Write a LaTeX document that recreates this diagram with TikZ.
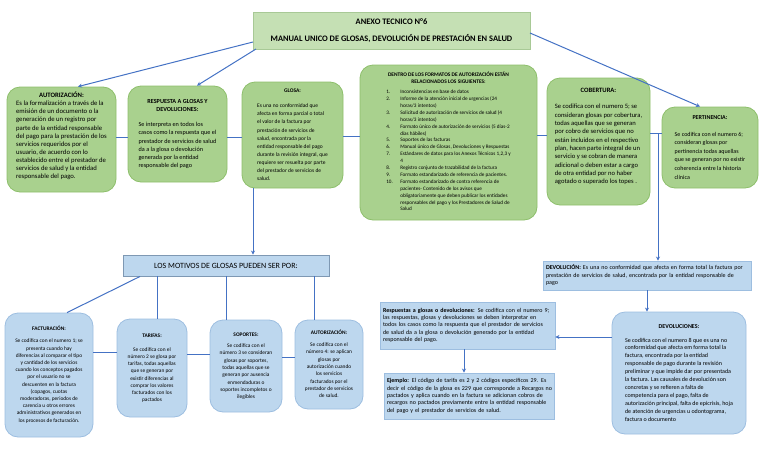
\documentclass[tikz,border=0pt]{standalone}
\usepackage{fontspec}
\setmainfont{Carlito}
\usetikzlibrary{arrows.meta}
\definecolor{gfill}{HTML}{A9D18E}
\definecolor{gline}{HTML}{8DBF6B}
\definecolor{tfill}{HTML}{C5E0B4}
\definecolor{tline}{HTML}{A8C996}
\definecolor{bfill}{HTML}{BDD7EE}
\definecolor{bline}{HTML}{9DBEE0}
\definecolor{conn}{HTML}{4472C4}
\tikzset{
  gbox/.style={draw=gline, fill=gfill, line width=0.8pt, rounded corners=13pt, inner sep=0pt},
  bbox/.style={draw=bline, fill=bfill, line width=0.8pt, rounded corners=13pt, inner sep=0pt},
  rbox/.style={draw=bline, fill=bfill, line width=0.9pt, inner sep=0pt, align=left},
  tbox/.style={draw=tline, fill=tfill, line width=0.8pt, inner sep=0pt, align=center},
  link/.style={draw=conn, line width=1pt},
  arr/.style={draw=conn, line width=1pt, -{Stealth[length=4pt,width=4pt]}}
}
\newcommand{\ttl}[1]{\multicolumn{1}{@{}c@{}}{\textbf{#1}}}
\newcommand{\num}[1]{\makebox[14pt][l]{#1}}
\begin{document}
\begin{tikzpicture}[x=1pt,y=-1pt]
\useasboundingbox (0,0) rectangle (768,466);
% title
\node[tbox, minimum width=277pt, minimum height=37pt, font=\bfseries\fontsize{8.4}{10}\selectfont] (title) at (391.5,30.5)
  {ANEXO TECNICO N°6\\[7pt]MANUAL UNICO DE GLOSAS, DEVOLUCIÓN DE PRESTACIÓN EN SALUD};
% green boxes
\node[gbox, minimum width=109pt, minimum height=105pt, font=\fontsize{6.7}{8.1}\selectfont] (aut) at (61.5,139.5)
  {\begin{tabular}{@{}l@{}}\ttl{AUTORIZACIÓN:}\\
   Es la formalización a través de la\\
   emisión de un documento o la\\
   generación de un registro por\\
   parte de la entidad responsable\\
   del pago para la prestación de los\\
   servicios requeridos por el\\
   usuario, de acuerdo con lo\\
   establecido entre el prestador de\\
   servicios de salud y la entidad\\
   responsable del pago.\\[6pt]\end{tabular}};
\node[gbox, minimum width=99pt, minimum height=96pt, font=\fontsize{6.2}{8.3}\selectfont] (resp) at (177.5,134)
  {\begin{tabular}{@{}l@{}}\ttl{RESPUESTA A GLOSAS Y}\\[-0.6pt]
   \ttl{DEVOLUCIONES:}\\[7pt]
   Se interpreta en todos los\\
   casos como la respuesta que el\\
   prestador de servicios de salud\\
   da a la glosa o devolución\\
   generada por la entidad\\
   responsable del pago\end{tabular}};
\node[gbox, minimum width=101pt, minimum height=106pt, font=\fontsize{5.5}{8.1}\selectfont] (glosa) at (292.5,135)
  {\begin{tabular}{@{}l@{}}\ttl{GLOSA:}\\[7pt]
   Es una no conformidad que\\
   afecta en forma parcial o total\\
   el valor de la factura por\\
   prestación de servicios de\\
   salud, encontrada por la\\
   entidad responsable del pago\\
   durante la revisión integral, que\\
   requiere ser resuelta por parte\\
   del prestador de servicios de\\
   salud.\end{tabular}};
\node[gbox, minimum width=177pt, minimum height=155pt, font=\fontsize{5.2}{6.9}\selectfont] (dentro) at (448.5,142.5)
  {\begin{tabular}{@{}l@{}}\ttl{\fontsize{5.4}{6.9}\selectfont DENTRO DE LOS FORMATOS DE AUTORIZACIÓN ESTÁN}\\
   \ttl{\fontsize{5.4}{6.9}\selectfont RELACIONADOS LOS SIGUIENTES:}\\[3pt]
   \num{1.}Inconsistencias en base de datos\\
   \num{2.}Informe de la atención inicial de urgencias (24\\
   \num{}horas/3 intentos)\\
   \num{3.}Solicitud de autorización de servicios de salud (4\\
   \num{}horas/3 intentos)\\
   \num{4.}Formato único de autorización de servicios (5 días-2\\
   \num{}días hábiles)\\
   \num{5.}Soportes de las facturas\\
   \num{6.}Manual único de Glosas, Devoluciones y Respuestas\\
   \num{7.}Estándares de datos para los Anexos Técnicos 1,2,3 y\\
   \num{}4\\
   \num{8.}Registro conjunto de trazabilidad de la factura\\
   \num{9.}Formato estandarizado de referencia de pacientes.\\
   \num{10.}Formato estandarizado de contra referencia de\\
   \num{}pacientes- Contenido de los avisos que\\
   \num{}obligatoriamente que deben publicar los entidades\\
   \num{}responsables del pago y los Prestadores de Salud de\\
   \num{}Salud\end{tabular}};
\node[gbox, minimum width=103pt, minimum height=127pt, font=\fontsize{6.6}{8.3}\selectfont] (cob) at (598.5,141.5)
  {\begin{tabular}{@{}l@{}}\ttl{COBERTURA:}\\[8pt]
   Se codifica con el numero 5; se\\
   consideran glosas por cobertura,\\
   todas aquellas que se generan\\
   por cobro de servicios que no\\
   están incluidos en el respectivo\\
   plan, hacen parte integral de un\\
   servicio y se cobran de manera\\
   adicional o deben estar a cargo\\
   de otra entidad por no haber\\
   agotado o superado los topes .\\[10pt]\end{tabular}};
\node[gbox, minimum width=96pt, minimum height=81pt, font=\fontsize{6}{8.6}\selectfont] (pert) at (710,147.5)
  {\begin{tabular}{@{}l@{}}\ttl{PERTINENCIA:}\\[8pt]
   Se codifica con el numero 6;\\
   consideran glosas por\\
   pertinencia todas aquellas\\
   que se generan por no existir\\
   coherencia entre la historia\\
   clínica\end{tabular}};
% motivos
\node[rbox, draw=bline!80!black, minimum width=206pt, minimum height=21pt, align=center, font=\fontsize{8}{9}\selectfont] (mot) at (226,265.5)
  {LOS MOTIVOS DE GLOSAS PUEDEN SER POR:};
% blue rounded boxes
\node[bbox, minimum width=88pt, minimum height=124pt, font=\fontsize{5.4}{7.2}\selectfont] (fact) at (49,375)
  {\begin{tabular}{@{}c@{}}\textbf{FACTURACIÓN:}\\[5pt]
   Se codifica con el numero 1; se\\
   presenta cuando hay\\
   diferencias al comparar el tipo\\
   y cantidad de los servicios\\
   cuando los conceptos pagados\\
   por el usuario no se\\
   descuenten en la factura\\
   (copagos, cuotas\\
   moderadoras, periodos de\\
   carencia u otros errores\\
   administrativos generados en\\
   los procesos de facturación.\end{tabular}};
\node[bbox, minimum width=70pt, minimum height=98pt, font=\fontsize{5.4}{7.1}\selectfont] (tar) at (152,368)
  {\begin{tabular}{@{}c@{}}\textbf{TARIFAS:}\\[7pt]
   Se codifica con el\\
   número 2 se glosa por\\
   tarifas, todas aquellas\\
   que se generan por\\
   existir diferencias al\\
   comprar los valores\\
   facturados con los\\
   pactados\end{tabular}};
\node[bbox, minimum width=72pt, minimum height=92pt, font=\fontsize{5.4}{7.3}\selectfont] (sop) at (246,366)
  {\begin{tabular}{@{}c@{}}\textbf{SOPORTES:}\\[4pt]
   Se codifica con el\\
   número 3 se consideran\\
   glosas por soportes,\\
   todas aquellas que se\\
   generan por ausencia\\
   enmendaduras o\\
   soportes incompletos o\\
   ilegibles\end{tabular}};
\node[bbox, minimum width=68pt, minimum height=89pt, font=\fontsize{5.4}{7.3}\selectfont] (aut2) at (329,364.5)
  {\begin{tabular}{@{}c@{}}\textbf{AUTORIZACIÓN:}\\[5pt]
   Se codifica con el\\
   número 4: se aplican\\
   glosas por\\
   autorización cuando\\
   los servicios\\
   facturados por el\\
   prestador de servicios\\
   de salud.\end{tabular}};
% rectangles right
\node[rbox, minimum width=175pt, minimum height=47pt, text width=169pt, font=\fontsize{6}{7.3}\selectfont] (resps) at (467.5,325.5)
  {\begin{tabular}{@{}l@{}}\textbf{Respuestas a glosas o devoluciones:} Se codifica con el numero 9;\\
   las respuestas, glosas y devoluciones se deben interpretar en\\
   todos los casos como la respuesta que el prestador de servicios\\
   de salud da a la glosa o devolución generado por la entidad\\
   responsable del pago.\end{tabular}};
\node[rbox, minimum width=170pt, minimum height=46pt, text width=164pt, font=\fontsize{6}{7.3}\selectfont] (ej) at (469,396)
  {\begin{tabular}{@{}l@{}}\textbf{Ejemplo:} El código de tarifa es 2 y 2 códigos específicos 29. Es\\
   decir el código de la glosa es 229 que corresponde a Recargos no\\
   pactados y aplica cuando en la factura se adicionan cobros de\\
   recargos no pactados previamente entre la entidad responsable\\
   del pago y el prestador de servicios de salud.\end{tabular}};
\node[rbox, minimum width=208pt, minimum height=29pt, text width=202pt, font=\fontsize{6}{7.8}\selectfont] (dev) at (647,275.5)
  {\begin{tabular}{@{}l@{}}\textbf{DEVOLUCIÓN:} Es una no conformidad que afecta en forma total la factura por\\
   prestación de servicios de salud, encontrada por la entidad responsable de\\
   pago\end{tabular}};
\node[bbox, minimum width=134pt, minimum height=122pt, font=\fontsize{6}{7.9}\selectfont] (devs) at (679,373)
  {\begin{tabular}{@{}l@{}}\ttl{DEVOLUCIONES:}\\[6pt]
   Se codifica con el numero 8 que es una no\\
   conformidad que afecta em forma total la\\
   factura, encontrada por la entidad\\
   responsable de pago durante la revisión\\
   preliminar y que impide dar por presentada\\
   la factura. Las causales de devolución son\\
   concretas y se refieren a falta de\\
   competencia para el pago, falta de\\
   autorización principal, falta de epicrisis, hoja\\
   de atención de urgencias u odontograma,\\
   factura o documento\end{tabular}};
% connectors
\coordinate (t1) at (253,42);
\coordinate (t2) at (256,49);
\coordinate (t3) at (530,33);
\coordinate (j1) at (658,133);
\draw[arr] (t1) -- (78,0 |- aut.north);
\draw[arr] (t2) -- (197,0 |- resp.north);
\draw[arr] (t3) -- (700,0 |- pert.north);
\draw[link] (aut.east |- 0,137) -- (resp.west |- 0,137);
\draw[link] (resp.east |- 0,137) -- (glosa.west |- 0,137);
\draw[link] (glosa.east |- 0,136) -- (dentro.west |- 0,136);
\draw[link] (dentro.east |- 0,135) -- (cob.west |- 0,135);
\draw[link] (cob.east |- j1) -- (pert.west |- j1);
\draw[arr] (j1) -- (j1 |- dev.north);
\draw[arr] (253,0 |- glosa.south) -- (253,0 |- mot.north);
\draw[link] (140,0 |- mot.south) -- (67,0 |- fact.north);
\draw[link] (157,0 |- mot.south) -- (157,0 |- tar.north);
\draw[link] (226,0 |- mot.south) -- (226,0 |- sop.north);
\draw[link] (314,0 |- mot.south) -- (314,0 |- aut2.north);
\draw[link] (fact.east |- 0,352) -- (tar.west |- 0,352);
\draw[link] (tar.east |- 0,354) -- (sop.west |- 0,354);
\draw[link] (sop.east |- 0,357) -- (aut2.west |- 0,357);
\draw[arr] (647,0 |- dev.south) -- (647,0 |- devs.north);
\draw[arr] (devs.west |- 0,337) -- (resps.east |- 0,337);
\draw[arr] (464,0 |- resps.south) -- (464,0 |- ej.north);
\end{tikzpicture}
\end{document}
